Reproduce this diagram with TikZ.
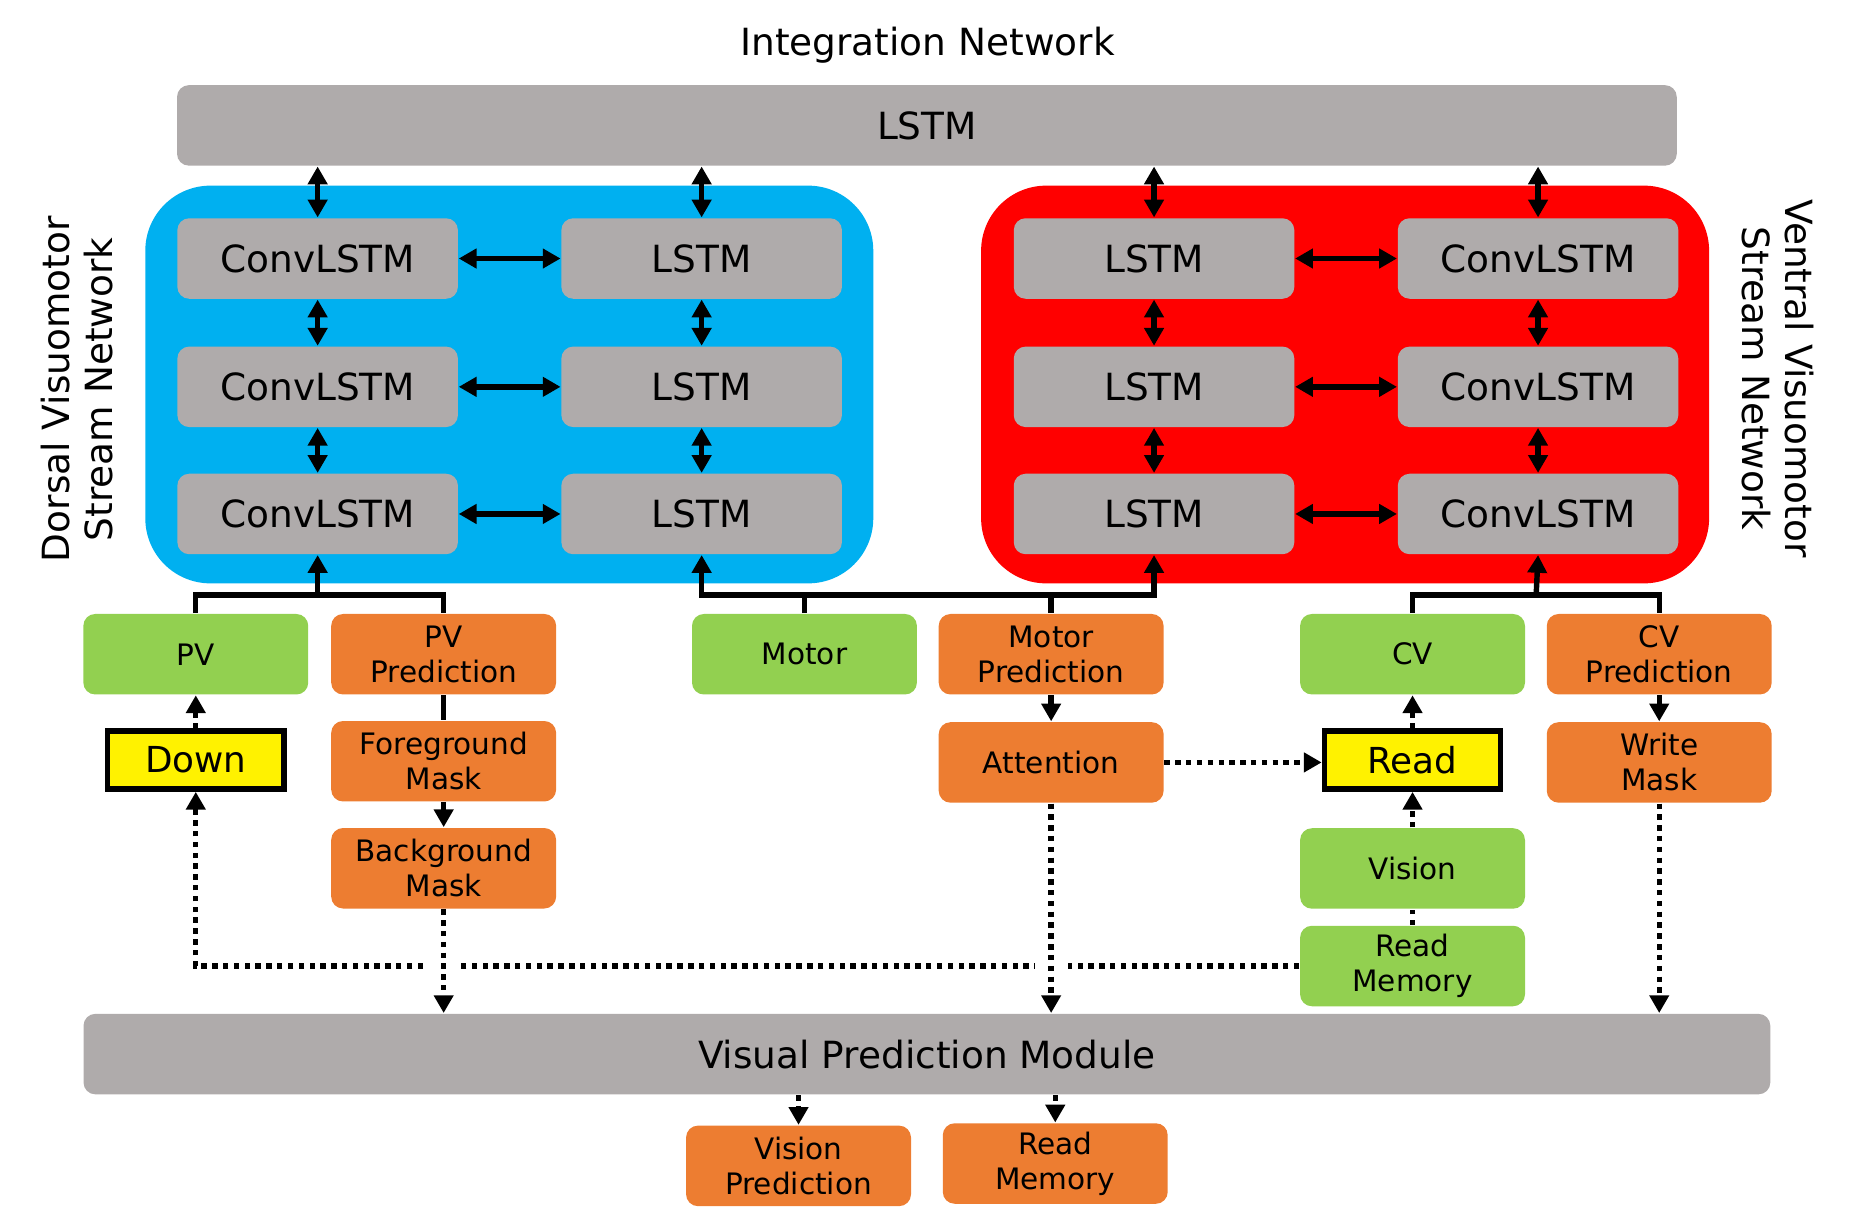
\documentclass[tikz,border=0pt]{standalone}
\usepackage{fontspec}
\setmainfont{DejaVu Sans}
\usetikzlibrary{positioning, arrows.meta}
\definecolor{cellgray}{RGB}{175,171,171}
\definecolor{dorsalblue}{RGB}{0,176,240}
\definecolor{ventralred}{RGB}{255,0,0}
\definecolor{inputgreen}{RGB}{146,208,80}
\definecolor{predorange}{RGB}{237,125,49}
\newcommand{\cellfont}{\fontsize{9}{10.5}\selectfont}
\newcommand{\boxfont}{\fontsize{7.1}{8.4}\selectfont}
\newcommand{\opfont}{\fontsize{8.6}{10}\selectfont}
\tikzset{
  cell/.style={
    rectangle,
    rounded corners=0.1cm,
    fill=cellgray,
    minimum width=2.37cm,
    minimum height=0.68cm,
    inner sep=0pt,
    font=\cellfont
  },
  io/.style={rectangle, rounded corners=0.1cm, minimum width=1.9cm, minimum height=0.68cm, inner sep=0pt, align=center, font=\boxfont},
  inp/.style={io, fill=inputgreen},
  pred/.style={io, fill=predorange},
  op/.style={rectangle, draw, line width=1.3pt, fill=yellow, minimum width=1.49cm, minimum height=0.49cm, inner sep=0pt, font=\opfont},
  stream/.style={rectangle, rounded corners=0.55cm, minimum width=6.15cm, minimum height=3.36cm},
  link/.style={line width=1.3pt},
  arr/.style={link, -{Triangle[length=0.15cm, width=0.16cm]}},
  dbl/.style={link, {Triangle[length=0.15cm, width=0.16cm]}-{Triangle[length=0.15cm, width=0.16cm]}},
  dots/.style={link, dash pattern=on 1.3pt off 1.3pt},
  dotarr/.style={dots, -{Triangle[length=0.15cm, width=0.16cm]}},
  jump/.style={preaction={draw=white, line width=0.28cm, solid, -}}
}
\begin{document}
\begin{tikzpicture}[x=0.01cm, y=-0.01cm]
  \useasboundingbox (0,0) rectangle (1568,1035);

  % Streams
  \node[stream, fill=dorsalblue] (dorsal) at (430.5,325) {};
  \node[stream, fill=ventralred] (ventral) at (1137,325) {};

  \node[font=\cellfont] (title) at (784,38) {Integration Network};
  \node[cell, minimum width=12.67cm] (integ) at (783.5,106) {LSTM};
  \node[font=\cellfont, align=center, rotate=90] (dlabel) at (65,329) {Dorsal Visuomotor\\Stream Network};
  \node[font=\cellfont, align=center, rotate=-90] (vlabel) at (1503,320) {Ventral Visuomotor\\Stream Network};

  % Dorsal stream
  \node[cell] (dc1) at (268.5,218.5) {ConvLSTM};
  \node[cell, below=0.39cm of dc1] (dc2) {ConvLSTM};
  \node[cell, below=0.38cm of dc2] (dc3) {ConvLSTM};
  \node[cell, right=0.86cm of dc1] (dl1) {LSTM};
  \node[cell, right=0.86cm of dc2] (dl2) {LSTM};
  \node[cell, right=0.86cm of dc3] (dl3) {LSTM};

  % Ventral stream
  \node[cell] (vl1) at (975.5,218.5) {LSTM};
  \node[cell, below=0.39cm of vl1] (vl2) {LSTM};
  \node[cell, below=0.38cm of vl2] (vl3) {LSTM};
  \node[cell, right=0.86cm of vl1] (vc1) {ConvLSTM};
  \node[cell, right=0.86cm of vl2] (vc2) {ConvLSTM};
  \node[cell, right=0.86cm of vl3] (vc3) {ConvLSTM};

  % Inputs and predictions
  \node[inp] (pv) at (165.5,553) {PV};
  \node[pred, right=0.18cm of pv] (pvpred) {PV\\Prediction};
  \node[inp] (motor) at (680,553) {Motor};
  \node[pred, right=0.17cm of motor] (motorpred) {Motor\\Prediction};
  \node[inp] (cv) at (1194,553) {CV};
  \node[pred, right=0.17cm of cv] (cvpred) {CV\\Prediction};

  \node[op, below=0.28cm of pv] (down) {Down};
  \node[pred, below=0.21cm of pvpred] (fgmask) {Foreground\\Mask};
  \node[pred, below=0.21cm of fgmask] (bgmask) {Background\\Mask};
  \node[pred, below=0.22cm of motorpred] (attn) {Attention};
  \node[op, below=0.28cm of cv] (read) {Read};
  \node[pred, below=0.22cm of cvpred] (wmask) {Write\\Mask};
  \node[inp, below=0.30cm of read] (vision) {Vision};
  \node[inp, below=0.13cm of vision] (readmem) {Read\\Memory};

  \node[cell, minimum width=14.25cm] (vpm) at (783.5,891) {Visual Prediction Module};
  \node[pred] (vispred) at (675,985.5) {Vision\\Prediction};
  \node[pred] (mempred) at (892,983.5) {Read\\Memory};

  % Links inside the streams
  \foreach \a/\b in {dc1/dc2, dc2/dc3, dl1/dl2, dl2/dl3, vl1/vl2, vl2/vl3, vc1/vc2, vc2/vc3, dc1/dl1, dc2/dl2, dc3/dl3, vl1/vc1, vl2/vc2, vl3/vc3}
    \draw[dbl] (\a) -- (\b);
  \foreach \blk in {dc1, dl1, vl1, vc1}
    \draw[dbl] (integ.south -| \blk.north) -- (\blk.north);

  % Input buses
  \coordinate (dbus) at (268.5,503);
  \coordinate (mbus) at (680,503);
  \coordinate (vbus) at (1298.5,503);
  \draw[link] (pv.north) |- (dbus) -| (pvpred.north);
  \draw[arr] (dbus) -- (dc3.south);
  \draw[link] (motor.north) |- (mbus) -| (motorpred.north);
  \draw[arr] (mbus) -| (dl3.south);
  \draw[arr] (mbus) -| (vl3.south);
  \draw[link] (cv.north) |- (vbus) -| (cvpred.north);
  \draw[arr] (vbus) -- (vc3.south);

  \draw[link] (pvpred) -- (fgmask);
  \draw[arr] (fgmask) -- (bgmask);
  \draw[arr] (motorpred) -- (attn);
  \draw[arr] (cvpred) -- (wmask);

  % Attention and memory paths
  \draw[dotarr] (down) -- (pv);
  \draw[dotarr] (read) -- (cv);
  \draw[dotarr] (vision) -- (read);
  \draw[dots] (readmem) -- (vision);
  \draw[dotarr] (attn.east) -- (attn.east -| read.west);
  \draw[dotarr] (readmem.west) -| (down.south);
  \draw[dotarr, jump] (bgmask.south) -- (bgmask.south |- vpm.north);
  \draw[dotarr, jump] (attn.south) -- (attn.south |- vpm.north);
  \draw[dotarr] (wmask.south) -- (wmask.south |- vpm.north);
  \draw[dotarr] (vpm.south -| vispred.north) -- (vispred.north);
  \draw[dotarr] (vpm.south -| mempred.north) -- (mempred.north);
\end{tikzpicture}
\end{document}
